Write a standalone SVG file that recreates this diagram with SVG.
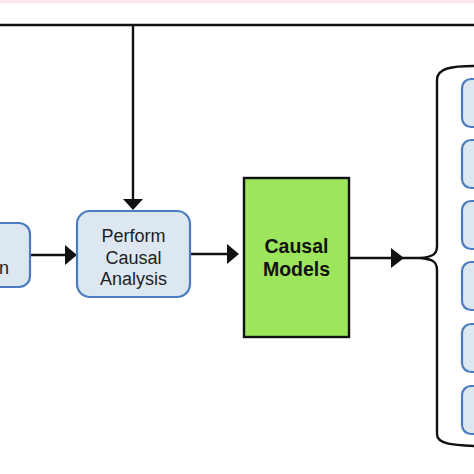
<svg xmlns="http://www.w3.org/2000/svg" width="474" height="474" viewBox="0 0 474 474">
<style>
.blue{fill:#dce7f1;stroke:#4a7cc0;stroke-width:2.2}
.line{fill:none;stroke:#111;stroke-width:2.4}
.head{fill:#111}
.t{font-family:"Liberation Sans",Arial,sans-serif;fill:#1e1e1e;text-anchor:middle}
.b{font-family:"Liberation Sans",Arial,sans-serif;font-weight:bold;fill:#111;text-anchor:middle}
</style>
<rect x="0" y="0" width="474" height="474" fill="#fff"/>
<rect x="0" y="0" width="474" height="3" fill="#fbe8ee"/>
<g id="connectors">
<path class="line" d="M0 25 H474"/>
<path class="line" d="M133 25 V200"/>
<polygon class="head" points="123,199 143,199 133,210"/>
<path class="line" d="M30 255 H66"/>
<polygon class="head" points="65,245 65,265 77,255"/>
<path class="line" d="M190 254 H228"/>
<polygon class="head" points="227,244 227,264 239,254"/>
<path class="line" d="M349 258 H420"/>
<polygon class="head" points="391,248 391,268 404,258"/>
<path class="line" d="M474 66 C452 66 437 68 437 80 V246 C437 254 433 257 420 258 C433 259 437 262 437 270 V434 C437 444 452 445 474 446"/>
</g>
<g id="node-left">
<rect class="blue" x="-20" y="223" width="50" height="64" rx="11"/>
<text class="t" x="4" y="274" font-size="18" text-anchor="middle">n</text>
</g>
<g id="node-perform">
<rect class="blue" x="77" y="211" width="113" height="86" rx="13"/>
<text class="t" x="133.5" y="242" font-size="18">Perform</text>
<text class="t" x="133.5" y="263.5" font-size="18">Causal</text>
<text class="t" x="133.5" y="285" font-size="18">Analysis</text>
</g>
<g id="node-causal-models">
<rect x="244" y="178" width="105" height="159" fill="#9de65c" stroke="#111" stroke-width="2.4"/>
<text class="b" x="296.5" y="253" font-size="19.5">Causal</text>
<text class="b" x="296.5" y="276" font-size="19.5">Models</text>
</g>
<g id="node-r1"><rect class="blue" x="462" y="79" width="40" height="48" rx="9"/></g>
<g id="node-r2"><rect class="blue" x="462" y="140" width="40" height="48" rx="9"/></g>
<g id="node-r3"><rect class="blue" x="462" y="201" width="40" height="48" rx="9"/></g>
<g id="node-r4"><rect class="blue" x="462" y="262" width="40" height="48" rx="9"/></g>
<g id="node-r5"><rect class="blue" x="462" y="324" width="40" height="48" rx="9"/></g>
<g id="node-r6"><rect class="blue" x="462" y="386" width="40" height="48" rx="9"/></g>
</svg>
